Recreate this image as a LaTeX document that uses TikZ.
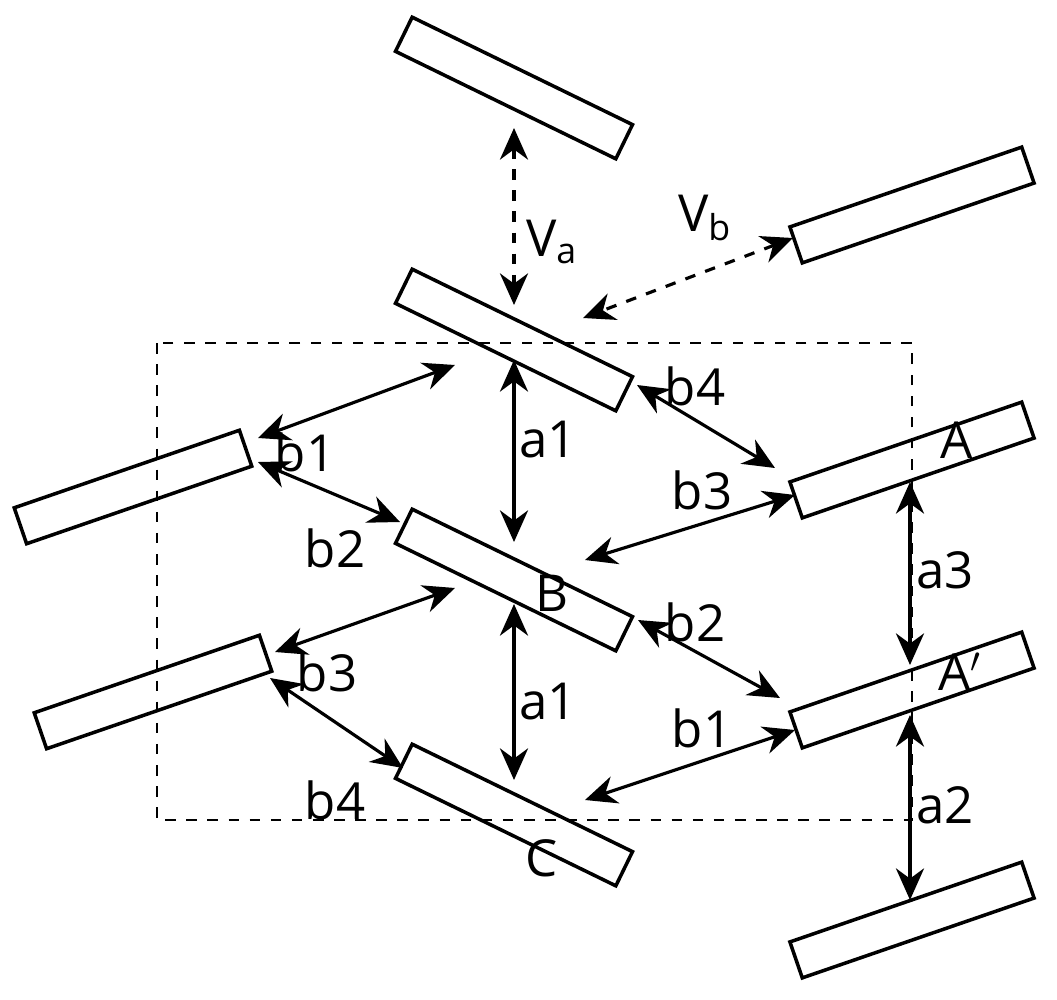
\documentclass[tikz,border=0pt]{standalone}
\usepackage{fontspec}
\setmainfont{Open Sans}
\usetikzlibrary{arrows.meta}
\begin{document}
\begin{tikzpicture}[x=0.01cm,y=-0.01cm,
  plate/.style={draw,line width=1pt,minimum width=2.45cm,minimum height=0.38cm,inner sep=0pt},
  dn/.style={plate,rotate=-26},
  up/.style={plate,rotate=19},
  arr/.style={line width=0.9pt,{Stealth[length=9pt,width=8pt]}-{Stealth[length=9pt,width=8pt]}},
  lab/.style={font=\fontsize{14.5}{17}\selectfont,inner sep=0pt}]
\useasboundingbox (0,0) rectangle (1057,1000);
\node[dn] (t) at (514,88) {};
\node[dn] (m) at (514,340) {};
\node[dn] (B) at (514,580) {};
\node[dn] (C) at (514,815) {};
\node[up,minimum width=2.38cm] (l1) at (133,487) {};
\node[up,minimum width=2.38cm] (l2) at (153,692) {};
\node[up] (r0) at (912,205) {};
\node[up] (A) at (912,460) {};
\node[up] (Ap) at (912,690) {};
\node[up] (r3) at (912,920) {};
\draw[dashed,line width=0.8pt] (157,343) rectangle (912,820);
\coordinate (va1) at (514,128); \coordinate (va2) at (514,305);
\coordinate (vb1) at (793,238); \coordinate (vb2) at (583,318);
\draw[arr,dashed] (va1) -- (va2);
\draw[arr,dashed] (vb1) -- (vb2);
\coordinate (p1) at (514,360); \coordinate (p2) at (514,542);
\coordinate (p3) at (514,604); \coordinate (p4) at (514,780);
\coordinate (p5) at (910,482); \coordinate (p6) at (910,665);
\coordinate (p7) at (910,715); \coordinate (p8) at (910,900);
\draw[arr] (p1) -- (p2); \draw[arr] (p3) -- (p4);
\draw[arr] (p5) -- (p6); \draw[arr] (p7) -- (p8);
\coordinate (q1) at (455,365); \coordinate (q2) at (258,438);
\coordinate (q3) at (258,462); \coordinate (q4) at (400,522);
\coordinate (q5) at (637,385); \coordinate (q6) at (775,468);
\coordinate (q7) at (795,495); \coordinate (q8) at (585,560);
\coordinate (q9) at (455,588); \coordinate (q10) at (275,652);
\coordinate (q11) at (270,678); \coordinate (q12) at (403,768);
\coordinate (q13) at (638,620); \coordinate (q14) at (780,698);
\coordinate (q15) at (795,730); \coordinate (q16) at (585,800);
\draw[arr] (q1) -- (q2); \draw[arr] (q3) -- (q4);
\draw[arr] (q5) -- (q6); \draw[arr] (q7) -- (q8);
\draw[arr] (q9) -- (q10); \draw[arr] (q11) -- (q12);
\draw[arr] (q13) -- (q14); \draw[arr] (q15) -- (q16);
\node[lab] (lva) at (552,242) {V\textsubscript{a}};
\node[lab] (lvb) at (705,218) {V\textsubscript{b}};
\node[lab] (l_b4a) at (695,386) {b4};
\node[lab] (l_b1a) at (305,452) {b1};
\node[lab] (l_a1a) at (548,440) {a1};
\node[lab] (l_b3a) at (702,490) {b3};
\node[lab] (l_b2a) at (335,548) {b2};
\node[lab] (l_B) at (552,593) {B};
\node[lab] (l_A) at (957,440) {A};
\node[lab] (l_a3) at (945,570) {a3};
\node[lab] (l_b2b) at (695,622) {b2};
\node[lab] (l_Ap) at (960,672) {A$'$};
\node[lab] (l_b3b) at (327,672) {b3};
\node[lab] (l_a1b) at (548,702) {a1};
\node[lab] (l_b1b) at (702,728) {b1};
\node[lab] (l_b4b) at (335,800) {b4};
\node[lab] (l_C) at (542,858) {C};
\node[lab] (l_a2) at (945,805) {a2};
\end{tikzpicture}
\end{document}
